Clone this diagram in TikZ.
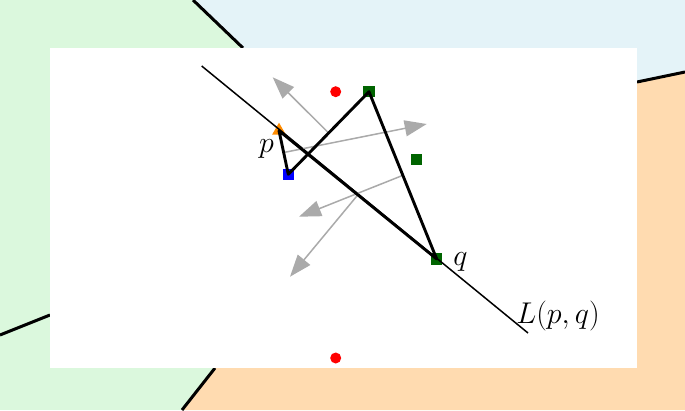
\documentclass[tikz,border=0pt]{standalone}
\usepackage{fix-cm}
\usetikzlibrary{shapes.geometric,arrows.meta,calc}
\definecolor{bggreen}{RGB}{219,248,221}
\definecolor{bgblue}{RGB}{228,243,248}
\definecolor{bgorange}{RGB}{255,219,176}
\definecolor{dkgreen}{RGB}{0,100,0}
\definecolor{mkorange}{RGB}{255,140,0}
\definecolor{arrgray}{RGB}{170,170,170}
\begin{document}
\begin{tikzpicture}[x=1pt,y=-1pt,
  border/.style={line width=3pt,black},
  sqmark/.style={rectangle,inner sep=0pt,minimum size=11.5pt,draw=none},
  dotmark/.style={circle,inner sep=0pt,minimum size=11pt,fill=red,draw=none},
  trimark/.style={regular polygon,regular polygon sides=3,inner sep=0pt,minimum size=16pt,fill=mkorange,draw=none},
  gray arrow/.style={draw=arrgray,line width=1.5pt,-{Triangle[length=22pt,width=16pt]}},
  polyedge/.style={line width=2.9pt,black,line join=round},
  lbl/.style={inner sep=0pt,font=\fontsize{30}{32}\selectfont}
]
\useasboundingbox (0,0) rectangle (685,410);
% background cells
\fill[bggreen] (0,0) rectangle (685,410);
\fill[bgblue] (193,0) -- (685,0) -- (685,72) -- (637,82) -- (400,150) -- (243,48) -- cycle;
\fill[bgorange] (685,72) -- (685,410) -- (182,410) -- (215,368) -- (400,150) -- (637,82) -- cycle;
\draw[border] (193,0) -- (243,48);
\draw[border] (685,72) -- (637,82);
\draw[border] (182,410) -- (215,368);
\draw[border] (0,335) -- (50,315);
% white window
\fill[white] (50,48) rectangle (637,368);
% markers
\node[dotmark] (r1) at (335.7,91.7) {};
\node[dotmark] (r2) at (335.7,358) {};
\node[sqmark,fill=dkgreen] (g2) at (416.7,159.5) {};
\node[sqmark,fill=dkgreen] (q) at (436.7,259) {};
\node[sqmark,fill=dkgreen] (g1) at (369,91.7) {};
\node[sqmark,fill=blue] (b) at (288.3,174.3) {};
\node[trimark] (p) at (279,130.7) {};
% line L(p,q)
\coordinate (Ls) at (201.7,66);
\coordinate (Le) at (528,333);
\draw[line width=1.5pt] (Ls) -- (Le);
% normals
\coordinate (m1) at ($(b.center)!0.5!(g1.center)$);
\coordinate (m2) at ($(p.center)!0.5!(b.center)$);
\coordinate (m3) at ($(g1.center)!0.5!(q.center)$);
\coordinate (m4) at ($(q.center)!0.5!(p.center)$);
\coordinate (t1) at (272.7,77.3);
\coordinate (t2) at (426.7,124);
\coordinate (t3) at (299,216.7);
\coordinate (t4) at (290,276.7);
\draw[gray arrow] (m1) -- (t1);
\draw[gray arrow] (m2) -- (t2);
\draw[gray arrow] (m3) -- (t3);
\draw[gray arrow] (m4) -- (t4);
% polygon
\draw[polyedge] (p.center) -- (b.center) -- (g1.center) -- (q.center) -- cycle;
% labels
\node[lbl] (lp) at (266.5,149) {$p$};
\node[lbl] (lq) at (460.5,262) {$q$};
\node[lbl] (lL) at (558,316) {$L(p,q)$};
\end{tikzpicture}
\end{document}
